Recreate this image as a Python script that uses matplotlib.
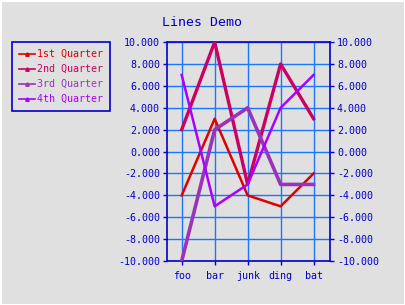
import numpy as np
import matplotlib
matplotlib.use('Agg')
import matplotlib.pyplot as plt
from matplotlib.lines import Line2D

# data
cats = ['foo', 'bar', 'junk', 'ding', 'bat']
q1 = [-4, 3, -4, -5, -2]
q2 = [2, 10, -3, 8, 3]
q3 = [-10, 2, 4, -3, -3]
q4 = [7, -5, -3, 4, 7]
names = ['1st Quarter', '2nd Quarter', '3rd Quarter', '4th Quarter']
colors = ['#e00000', '#cc0060', '#9933bb', '#aa00ff']
widths = [1.8, 2.4, 2.6, 1.8]

plt.rcParams['font.family'] = 'DejaVu Sans Mono'
plt.rcParams['font.size'] = 7.2

blue = '#0000cc'
grid_c = '#1a75ff'
bg = '#e0e0e0'

fig = plt.figure(figsize=(4.05, 3.05), dpi=100, facecolor=bg,
                 edgecolor='white', linewidth=2)
ax = fig.add_axes([0.412, 0.144, 0.403, 0.718])
ax.set_facecolor(bg)

x = np.arange(len(cats))
for ys, c, w in zip([q1, q2, q3, q4], colors, widths):
    ax.plot(x, ys, color=c, lw=w, zorder=3)

ax.set_xlim(-0.45, 4.5)
ax.set_ylim(-10, 10)
yt = np.arange(-10, 11, 2)
ax.set_yticks(yt)
ax.set_yticklabels(['%.3f' % v for v in yt])
ax.set_xticks(x)
ax.set_xticklabels(cats)
ax.grid(True, color=grid_c, lw=1)
ax.set_axisbelow(True)
for s in ax.spines.values():
    s.set_color(blue)
    s.set_linewidth(1.2)
ax.tick_params(colors=blue, labelcolor=blue, length=3, width=1, pad=2)
ax.tick_params(axis='x', pad=4)

ax2 = ax.twinx()
ax2.set_ylim(-10, 10)
ax2.set_yticks(yt)
ax2.set_yticklabels(['%.3f' % v for v in yt])
ax2.tick_params(colors=blue, labelcolor=blue, length=3, width=1, pad=2)
for s in ax2.spines.values():
    s.set_visible(False)

fig.text(0.5, 1 - 22 / 305, 'Lines Demo', color=blue, fontsize=9.5,
         ha='center', va='center')

handles = [Line2D([], [], color=c, lw=1.2, marker='^', ms=2.5) for c in colors]
leg = fig.legend(handles, names, loc='upper left',
                 bbox_to_anchor=(12 / 405, 1 - 42 / 305), borderaxespad=0,
                 fancybox=False, framealpha=1, facecolor=bg,
                 edgecolor=blue, handlelength=1.6, handletextpad=0.2,
                 borderpad=0.7, labelspacing=0.5, fontsize=7.2)
leg.get_frame().set_linewidth(1.2)
for t, c in zip(leg.get_texts(), colors):
    t.set_color(c)

fig.savefig('out.png', dpi=100, facecolor=bg, edgecolor='white')
